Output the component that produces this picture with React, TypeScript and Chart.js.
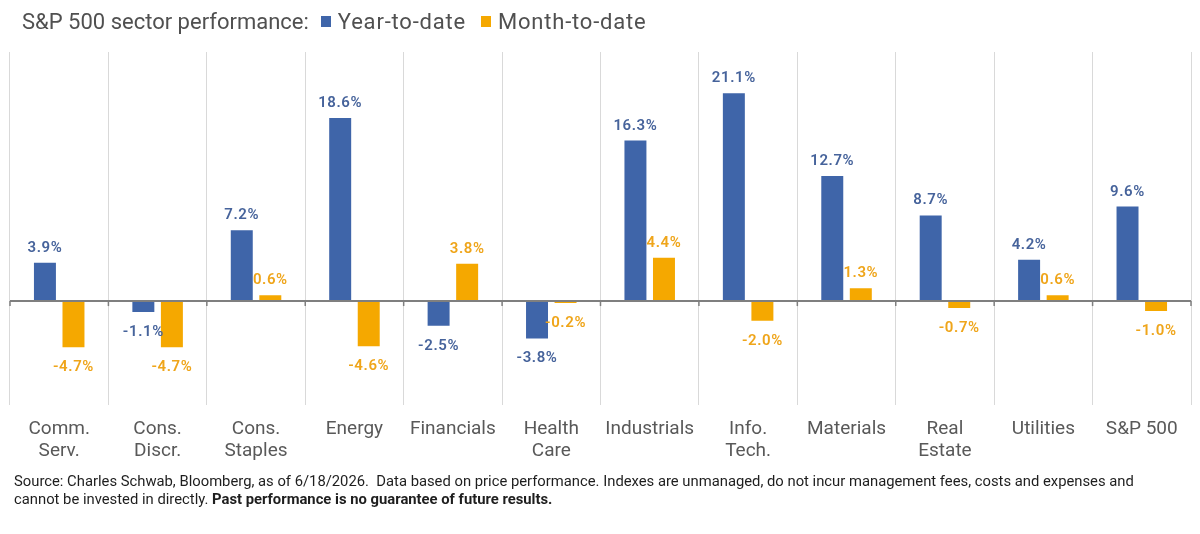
import React, { useEffect, useRef } from "react";
import { Chart, registerables } from "chart.js";

Chart.register(...registerables);

const categories: string[][] = [
  ["Comm.", "Serv."],
  ["Cons.", "Discr."],
  ["Cons.", "Staples"],
  ["Energy"],
  ["Financials"],
  ["Health", "Care"],
  ["Industrials"],
  ["Info.", "Tech."],
  ["Materials"],
  ["Real", "Estate"],
  ["Utilities"],
  ["S&P 500"],
];

const yearToDate: number[] = [3.9, -1.1, 7.2, 18.6, -2.5, -3.8, 16.3, 21.1, 12.7, 8.7, 4.2, 9.6];
const monthToDate: number[] = [-4.7, -4.7, 0.6, -4.6, 3.8, -0.2, 4.4, -2.0, 1.3, -0.7, 0.6, -1.0];

const seriesNames = ["Year-to-date", "Month-to-date"];
const BLUE = "#3F65A9";
const ORANGE = "#F5A800";
const BLUE_TEXT = "#46639B";
const ORANGE_TEXT = "#EFA51A";
const FONT = "Roboto, 'Open Sans', sans-serif";

// Zero baseline with small tick marks at category boundaries.
const zeroLinePlugin = {
  id: "zeroLine",
  afterDatasetsDraw(chart: any) {
    const { ctx, chartArea, scales } = chart;
    const y0 = scales.y.getPixelForValue(0);
    const xs = scales.x;
    ctx.save();
    ctx.strokeStyle = "#7F7F7F";
    ctx.lineWidth = 2;
    ctx.beginPath();
    ctx.moveTo(chartArea.left, y0);
    ctx.lineTo(chartArea.right, y0);
    ctx.stroke();
    ctx.lineWidth = 1.5;
    const n = xs.ticks.length;
    for (let i = 0; i <= n; i++) {
      const x = xs.getPixelForTick(0) + (i - 0.5) * (xs.width / n);
      ctx.beginPath();
      ctx.moveTo(x, y0);
      ctx.lineTo(x, y0 + 5);
      ctx.stroke();
    }
    ctx.restore();
  },
};

// Value labels above positive bars and below negative bars.
const valueLabelPlugin = {
  id: "valueLabels",
  afterDatasetsDraw(chart: any) {
    const { ctx } = chart;
    ctx.save();
    ctx.font = `600 15px ${FONT}`;
    (ctx as any).letterSpacing = "0.6px";
    ctx.textAlign = "center";
    ctx.textBaseline = "alphabetic";
    chart.data.datasets.forEach((ds: any, di: number) => {
      const meta = chart.getDatasetMeta(di);
      ctx.fillStyle = di === 0 ? BLUE_TEXT : ORANGE_TEXT;
      meta.data.forEach((bar: any, i: number) => {
        const v = ds.data[i] as number;
        const label = v.toFixed(1) + "%";
        if (v >= 0) {
          ctx.fillText(label, bar.x, bar.y - 11);
        } else {
          ctx.fillText(label, bar.x, bar.y + 24);
        }
      });
    });
    ctx.restore();
  },
};

export default function App() {
  const canvasRef = useRef<HTMLCanvasElement | null>(null);

  useEffect(() => {
    if (!canvasRef.current) return;
    const chart = new Chart(canvasRef.current, {
      type: "bar",
      data: {
        labels: categories,
        datasets: [
          {
            label: seriesNames[0],
            data: yearToDate,
            backgroundColor: BLUE,
            categoryPercentage: 0.58,
            barPercentage: 0.77,
          },
          {
            label: seriesNames[1],
            data: monthToDate,
            backgroundColor: ORANGE,
            categoryPercentage: 0.58,
            barPercentage: 0.77,
          },
        ],
      },
      options: {
        responsive: false,
        animation: false,
        devicePixelRatio: 1,
        layout: { padding: { left: 10, right: 9, top: 52, bottom: 59 } },
        plugins: {
          legend: { display: false },
          tooltip: { enabled: false },
          title: { display: false },
        },
        scales: {
          x: {
            grid: {
              offset: true,
              color: "#D9D9D9",
              lineWidth: 1,
              drawTicks: false,
            },
            border: { display: false },
            ticks: {
              color: "#595959",
              font: { family: FONT, size: 19 },
              padding: 12,
              maxRotation: 0,
              autoSkip: false,
            },
          },
          y: {
            display: false,
            min: -10.6,
            max: 25.3,
          },
        },
      },
      plugins: [zeroLinePlugin, valueLabelPlugin],
    });
    return () => chart.destroy();
  }, []);

  const legendItem = (color: string, text: string, ml: number) => (
    <span style={{ display: "inline-flex", alignItems: "center", marginLeft: ml }}>
      <span style={{ display: "inline-block", width: 10, height: 11, background: color, marginRight: 7 }} />
      <span style={{ letterSpacing: 0.8 }}>{text}</span>
    </span>
  );

  return (
    <div
      style={{
        position: "absolute",
        left: 0,
        top: 0,
        width: 1200,
        height: 534,
        background: "#FFFFFF",
        overflow: "hidden",
        fontFamily: FONT,
      }}
    >
      <canvas ref={canvasRef} width={1200} height={534} style={{ position: "absolute", left: 0, top: 0 }} />
      <div
        style={{
          position: "absolute",
          left: 22,
          top: 9,
          fontSize: 22,
          color: "#505050",
          whiteSpace: "nowrap",
          display: "flex",
          alignItems: "center",
        }}
      >
        <span>S&amp;P 500 sector performance:</span>
        {legendItem(BLUE, seriesNames[0], 12)}
        {legendItem(ORANGE, seriesNames[1], 15)}
      </div>
      <div
        style={{
          position: "absolute",
          left: 14,
          top: 472,
          fontSize: 14.8,
          lineHeight: "18px",
          color: "#1E1E1E",
          width: 1186,
        }}
      >
        Source: Charles Schwab, Bloomberg, as of 6/18/2026.&nbsp; Data based on price performance. Indexes are
        unmanaged, do not incur management fees, costs and expenses and
        <br />
        cannot be invested in directly. <b>Past performance is no guarantee of future results.</b>
      </div>
    </div>
  );
}
